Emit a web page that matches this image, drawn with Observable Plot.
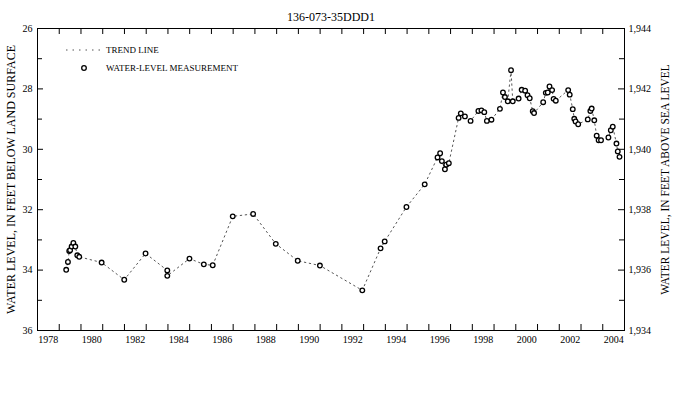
<!DOCTYPE html>
<html>
<head>
<meta charset="utf-8">
<script src="https://cdn.jsdelivr.net/npm/d3@7"></script>
<script src="https://cdn.jsdelivr.net/npm/@observablehq/plot@0.6"></script>
<style>
  html, body { margin: 0; padding: 0; background: white; }
</style>
</head>
<body>
<div id="chart"></div>
<script>
const title = "136-073-35DDD1";
const leftLabel = "WATER LEVEL, IN FEET BELOW LAND SURFACE";
const rightLabel = "WATER LEVEL, IN FEET ABOVE SEA LEVEL";
const legendTrend = "TREND LINE";
const legendMeas = "WATER-LEVEL MEASUREMENT";
const landSurface = 1970; // feet above sea level

const dates = [1979.32, 1979.40, 1979.46, 1979.50, 1979.57, 1979.65, 1979.74, 1979.83, 1979.92,
  1980.95, 1981.99, 1982.97, 1983.97, 1983.97, 1984.99, 1985.65, 1986.06, 1986.98,
  1987.92, 1988.96, 1989.97, 1990.99, 1992.94, 1993.78, 1993.97, 1994.97, 1995.81,
  1996.40, 1996.52, 1996.60, 1996.74, 1996.80, 1996.92,
  1997.37, 1997.47, 1997.66, 1997.92,
  1998.28, 1998.42, 1998.55, 1998.67, 1998.88,
  1999.27, 1999.41, 1999.50, 1999.63, 1999.78, 1999.86,
  2000.13, 2000.27, 2000.43, 2000.54, 2000.64, 2000.78, 2000.84,
  2001.26, 2001.38, 2001.47, 2001.55, 2001.67, 2001.74, 2001.84,
  2002.41, 2002.48, 2002.62, 2002.69, 2002.75, 2002.87,
  2003.31, 2003.43, 2003.49, 2003.61, 2003.72, 2003.81, 2003.92,
  2004.26, 2004.37, 2004.46, 2004.63, 2004.69, 2004.77];
const depths = [33.99, 33.73, 33.37, 33.34, 33.22, 33.10, 33.22, 33.51, 33.56,
  33.75, 34.32, 33.45, 34.01, 34.19, 33.62, 33.81, 33.84, 32.22,
  32.14, 33.13, 33.69, 33.85, 34.67, 33.28, 33.05, 31.91, 31.16,
  30.27, 30.13, 30.39, 30.66, 30.51, 30.46,
  28.96, 28.81, 28.91, 29.06,
  28.73, 28.71, 28.77, 29.06, 29.02,
  28.66, 28.12, 28.27, 28.41, 27.38, 28.41,
  28.32, 28.03, 28.06, 28.21, 28.31, 28.74, 28.80,
  28.44, 28.13, 28.12, 27.92, 28.04, 28.33, 28.39,
  28.04, 28.19, 28.67, 28.99, 29.08, 29.17,
  29.01, 28.73, 28.65, 29.04, 29.55, 29.70, 29.70,
  29.61, 29.37, 29.25, 29.81, 30.07, 30.25];

const xLabelYears = [1978, 1980, 1982, 1984, 1986, 1988, 1990, 1992, 1994, 1996, 1998, 2000, 2002, 2004];
const yearTicks = d3.range(1979, 2005);
const depthLabels = [26, 28, 30, 32, 34, 36];
const depthMinor = [27, 29, 31, 33, 35];

const data = dates.map((t, i) => ({t, d: depths[i]}));

const W = 674, H = 413;
const mL = 37, mR = 50, mT = 28, mB = 83;
const fw = W - mL - mR, fh = H - mT - mB;
const fmt = d3.format(",");
const serif = "'Liberation Serif', 'Times New Roman', serif";

const chart = Plot.plot({
  width: W, height: H,
  marginLeft: mL, marginRight: mR, marginTop: mT, marginBottom: mB,
  style: {fontFamily: serif, fontSize: "10px", background: "white", color: "black"},
  x: {domain: [1978, 2005]},
  y: {domain: [26, 36], reverse: true},
  marks: [
    Plot.frame({stroke: "black", strokeWidth: 1}),
    Plot.tickX(yearTicks, {x: d => d, insetTop: fh - 6, stroke: "black"}),
    Plot.tickX(yearTicks, {x: d => d, insetBottom: fh - 6, stroke: "black"}),
    Plot.tickY(depthLabels, {y: d => d, insetRight: fw - 6, stroke: "black"}),
    Plot.tickY(depthMinor, {y: d => d, insetRight: fw - 5, stroke: "black"}),
    Plot.tickY(depthLabels, {y: d => d, insetLeft: fw - 6, stroke: "black"}),
    Plot.tickY(depthMinor, {y: d => d, insetLeft: fw - 5, stroke: "black"}),
    Plot.axisX({ticks: xLabelYears.map(y => y + 0.5), tickFormat: d => String(Math.floor(d)),
      tickSize: 0, tickPadding: 5, fontSize: 10, fontFamily: serif, label: null}),
    Plot.axisY({anchor: "left", ticks: depthLabels, tickFormat: d => String(d), tickSize: 0, tickPadding: 5,
      fontSize: 10, fontFamily: serif, label: null}),
    Plot.axisY({anchor: "right", ticks: depthLabels, tickFormat: d => fmt(landSurface - d), tickSize: 0, tickPadding: 4,
      fontSize: 10, fontFamily: serif, label: null}),
    Plot.axisY({anchor: "left", ticks: [], tickSize: 0, fontSize: 12, fontFamily: serif,
      label: leftLabel, labelAnchor: "center", labelOffset: 31, labelArrow: "none"}),
    Plot.axisY({anchor: "right", ticks: [], tickSize: 0, fontSize: 11.5, fontFamily: serif,
      label: rightLabel, labelAnchor: "center", labelOffset: 44, labelArrow: "none"}),
    Plot.line(data, {x: "t", y: "d", stroke: "#555", strokeWidth: 1, strokeDasharray: "1.5,3.5"}),
    Plot.dot(data, {x: "t", y: "d", r: 2.3, stroke: "black", strokeWidth: 1.3, fill: "white"}),
    Plot.text([title], {frameAnchor: "top", dy: -16, fontSize: 12, fontFamily: serif, text: d => d})
  ]
});

// legend inside plot area (top-left)
const svg = d3.select(chart);
const lg = svg.append("g").attr("font-family", serif).attr("font-size", 9).attr("text-anchor", "start");
lg.append("line").attr("x1", 66).attr("x2", 101).attr("y1", 50).attr("y2", 50)
  .attr("stroke", "#555").attr("stroke-dasharray", "1.5,5");
lg.append("text").attr("x", 106).attr("y", 50).attr("dy", "0.32em").text(legendTrend);
lg.append("circle").attr("cx", 84).attr("cy", 68).attr("r", 2.3)
  .attr("stroke", "black").attr("stroke-width", 1.3).attr("fill", "white");
lg.append("text").attr("x", 106).attr("y", 68).attr("dy", "0.32em").text(legendMeas);

document.getElementById("chart").appendChild(chart);
</script>
</body>
</html>
